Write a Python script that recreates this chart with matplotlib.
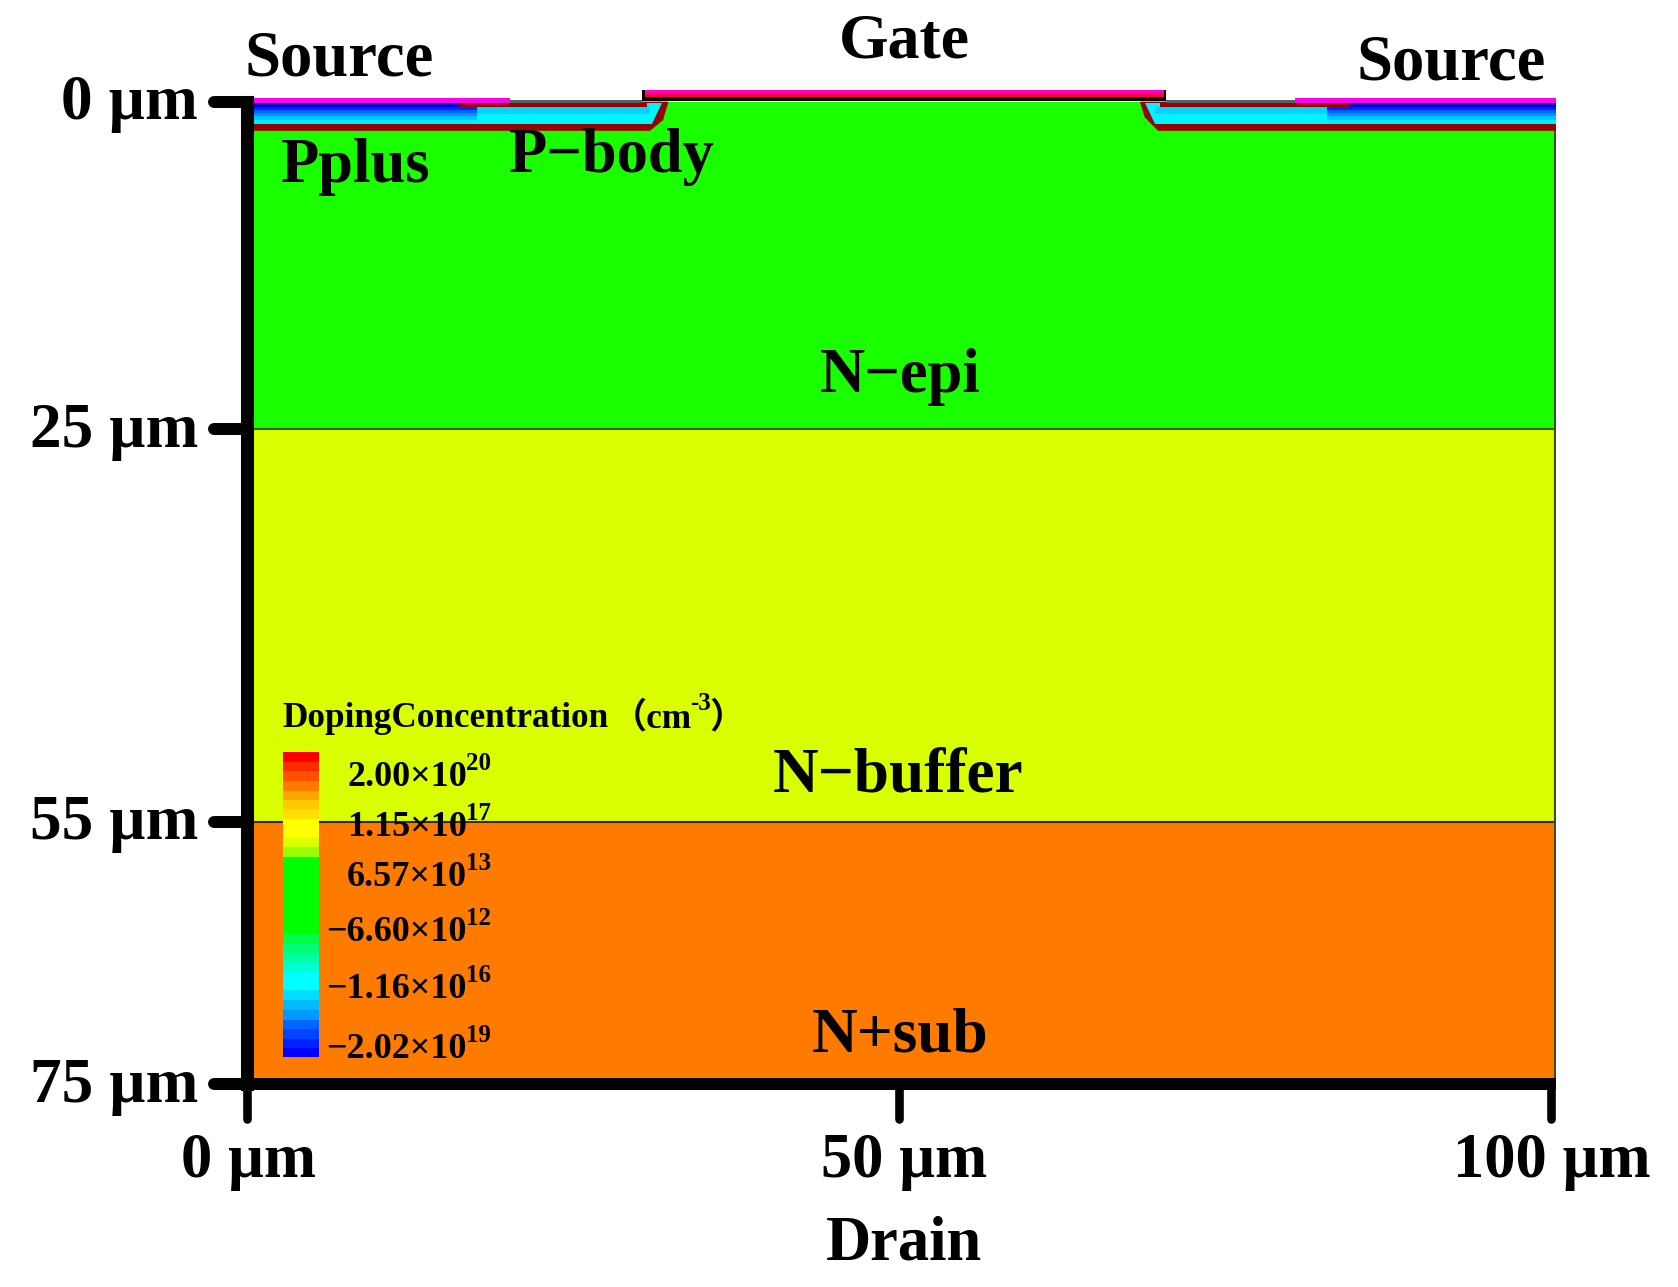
import matplotlib
matplotlib.use("Agg")
import matplotlib.pyplot as plt
import matplotlib.lines as mlines
from matplotlib.markers import MarkerStyle
from matplotlib.transforms import ScaledTranslation

W, H = 1678, 1287
plt.rcParams['font.family'] = ['Liberation Serif', 'Noto Sans CJK SC', 'DejaVu Sans']
plt.rcParams['font.weight'] = 'bold'

# ---- data (micrometres) ----
x_ticks = [0, 50, 100]
x_labels = ['0 µm', '50 µm', '100 µm']
y_ticks = [0, 25, 55, 75]
y_labels = ['0 µm', '25 µm', '55 µm', '75 µm']
x_left, x_right = 0.5, 100.35
layer_depths = [0, 25, 55, 75]
layer_colors = ['#1aff00', '#d9ff00', '#ff7b00']

body_l_outer_x = [x_left, 32.3, 31.9, 30.92, x_left]
body_l_outer_y = [0.0, 0.0, 1.37, 2.17, 2.17]
body_l_inner_x = [x_left, 31.84, 31.07, x_left]
body_l_inner_y = [0.08, 0.08, 1.68, 1.68]
body_r_outer_x = [68.5, x_right, x_right, 69.85, 68.85]
body_r_outer_y = [0.0, 0.0, 2.17, 2.17, 1.15]
body_r_inner_x = [68.85, x_right, x_right, 69.6]
body_r_inner_y = [0.08, 0.08, 1.68, 1.68]

junction_top_l = (16.36, 30.7)
junction_top_r = (70.0, 84.6)
junction_depth = (0.08, 0.38)
cyan_bands = [(0.38, 0.95, '#00d4ff'), (0.95, 1.68, '#00f4ff')]
pplus_l_end = 17.66
pplus_r_start = 82.8
pplus_bands = [(0.08, 0.38, '#0000c8'), (0.38, 0.62, '#0020ff'), (0.62, 0.85, '#0060ff'),
               (0.85, 1.08, '#0094ff'), (1.08, 1.36, '#00c4ff'), (1.36, 1.68, '#00ecff')]
oxide_l = (20.2, 30.3)
oxide_r = (70.5, 80.35)
oxide_depth = (-0.15, 0.08)
source_l = (x_left, 20.2)
source_r = (80.35, x_right)
source_depth = (-0.31, 0.08)
gate_span = (30.3, 70.5)
gate_layers = [(-0.92, -0.68, '#ff00c8'), (-0.68, -0.38, '#ff0040'), (-0.38, -0.1, '#000000')]

legend_heights = [29, 28, 29, 30, 27, 29, 29, 56, 29, 30, 228, 30, 27, 29, 29, 55, 30, 30, 28, 28, 29, 27, 28]
legend_colors = ['#ff0000', '#ff2a00', '#ff5000', '#ff7b00', '#ffa500', '#ffc800', '#ffe000', '#ffff00',
                 '#d9ff00', '#99ff00', '#00ff00', '#00ff44', '#00ff77', '#00ffa0', '#00ffcc', '#00ffff',
                 '#00ddff', '#00bbff', '#0099ff', '#0066ff', '#0044ff', '#0022ff', '#0000ff']
legend_title = 'DopingConcentration'
legend_unit = '（cm'
legend_power = '-3'
legend_close = '）'
legend_values = ['2.00×10', '1.15×10', '6.57×10', '−6.60×10', '−1.16×10', '−2.02×10']
legend_powers = ['20', '17', '13', '12', '16', '19']

region_labels = ['Source', 'Gate', 'Source', 'Pplus', 'P−body', 'N−epi', 'N−buffer', 'N+sub', 'Drain']


def fx(px):
    return px / W


def fy(py):
    return 1 - py / H


fig = plt.figure(figsize=(W / 100, H / 100), dpi=100, facecolor='white')
ax = fig.add_axes([fx(246.5), fy(1084), (1556 - 246.5) / W, (1084 - 86) / H])
ax.set_xlim(0, x_right)
ax.set_ylim(75, -1.22)
ax.patch.set_alpha(0)

# epitaxial layers
for top, bot, col in zip(layer_depths[:-1], layer_depths[1:], layer_colors):
    ax.fill_between([x_left, x_right], top, bot, color=col, lw=0, zorder=1)
ax.plot([x_left, x_right], [25, 25], color='#3c6000', lw=1.5, zorder=1.2)
ax.plot([x_left, x_right], [55, 55], color='#402000', lw=1.5, zorder=1.2)
ax.plot([x_right - 0.05, x_right - 0.05], [0, 75], color='#3c4c30', lw=1.5, zorder=1.2)

# p-body wells
ax.fill(body_l_outer_x, body_l_outer_y, color='#990000', lw=0.5, zorder=1.3)
ax.fill(body_r_outer_x, body_r_outer_y, color='#990000', lw=0.5, zorder=1.3)
ax.fill(body_l_inner_x, body_l_inner_y, color='#00f4ff', lw=0, zorder=1.4)
ax.fill(body_r_inner_x, body_r_inner_y, color='#00f4ff', lw=0, zorder=1.4)
for d0, d1, col in cyan_bands:
    ax.fill_between([x_left, 30.9], d0, d1, color=col, lw=0, zorder=1.5)
    ax.fill_between([69.6, x_right], d0, d1, color=col, lw=0, zorder=1.5)
for d0, d1, col in pplus_bands:
    ax.fill_between([x_left, pplus_l_end], d0, d1, color=col, lw=0, zorder=1.6)
    ax.fill_between([pplus_r_start, x_right], d0, d1, color=col, lw=0, zorder=1.6)
for span in (junction_top_l, junction_top_r):
    ax.fill_between(span, *junction_depth, color='#990000', lw=0, zorder=1.7)

# oxide, metal, gate
for span in (oxide_l, oxide_r):
    ax.fill_between(span, *oxide_depth, color='#556060', lw=0, zorder=1.8)
for span in (source_l, source_r):
    ax.fill_between(span, *source_depth, color='#ff00f0', lw=0, zorder=1.9)
ax.fill_between(gate_span, gate_layers[0][0], gate_layers[-1][1], color='#000000', lw=0, zorder=1.8)
for d0, d1, col in gate_layers:
    ax.fill_between([gate_span[0] + 0.25, gate_span[1] - 0.2], d0, d1, color=col, lw=0, zorder=1.9)

# axes furniture
for s in ('top', 'right'):
    ax.spines[s].set_visible(False)
ax.spines['left'].set_linewidth(9.4)
ax.spines['left'].set_bounds(0, 75)
ax.spines['bottom'].set_linewidth(8.6)
ax.spines['bottom'].set_bounds(0, 99.9)
ax.set_xticks(x_ticks, x_labels, fontsize=45, fontweight='bold')
ax.set_yticks(y_ticks, y_labels, fontsize=45.5, fontweight='bold')
ax.tick_params(axis='x', length=25.5, width=6.2, pad=10, color='black')
ax.tick_params(axis='y', length=24, width=8.6, pad=11, color='black')
for t in ax.xaxis.get_major_ticks():
    t.tick1line.set_marker(MarkerStyle(mlines.TICKDOWN, capstyle='round'))
for t in ax.yaxis.get_major_ticks():
    t.tick1line.set_marker(MarkerStyle(mlines.TICKLEFT, capstyle='round'))
for lab, dx in zip(ax.get_xticklabels(), [2, 5.5, 0]):
    lab.set_transform(lab.get_transform() + ScaledTranslation(dx / 100, 0, fig.dpi_scale_trans))
for lab, dy in zip(ax.get_yticklabels(), [5, 4.5, 5.5, 3.5]):
    lab.set_transform(lab.get_transform() + ScaledTranslation(0, dy / 100, fig.dpi_scale_trans))

# region annotations: (centre x px, baseline px, size)
label_pos = [(339, 75, 46.5), (904, 58, 46), (1451, 79, 46.5), (356, 182, 45), (612, 172, 45),
             (900, 392, 45), (898, 791, 45.5), (900, 1052, 45.5), (904, 1260, 45)]
for txt, (px, py, fs) in zip(region_labels, label_pos):
    fig.text(fx(px), fy(py), txt, ha='center', va='baseline', fontsize=fs, fontweight='bold', color='black')

# legend
cax = fig.add_axes([fx(283), fy(1057), 36 / W, 305 / H])
cax.axis('off')
bottom = 0
for h, c in zip(reversed(legend_heights), reversed(legend_colors)):
    cax.bar(0, h, bottom=bottom, width=1, color=c, lw=0)
    bottom += h
cax.set_xlim(-0.5, 0.5)
cax.set_ylim(0, bottom)

fig.text(fx(282), fy(727), legend_title, ha='left', va='baseline', fontsize=25.3, fontweight='bold')
fig.text(fx(612), fy(727), legend_unit, ha='left', va='baseline', fontsize=25.3, fontweight='bold')
fig.text(fx(690), fy(710), legend_power, ha='left', va='baseline', fontsize=18, fontweight='bold')
fig.text(fx(709), fy(727), legend_close, ha='left', va='baseline', fontsize=25.3, fontweight='bold')
value_base = [786, 836, 886, 941, 998, 1058]
power_base = [770, 820, 870, 925, 982, 1042]
for v, p, yb, yp in zip(legend_values, legend_powers, value_base, power_base):
    fig.text(fx(467), fy(yb), v, ha='right', va='baseline', fontsize=26, fontweight='bold')
    fig.text(fx(466.5), fy(yp), p, ha='left', va='baseline', fontsize=18, fontweight='bold')

fig.savefig('out.png', dpi=100, facecolor='white')
